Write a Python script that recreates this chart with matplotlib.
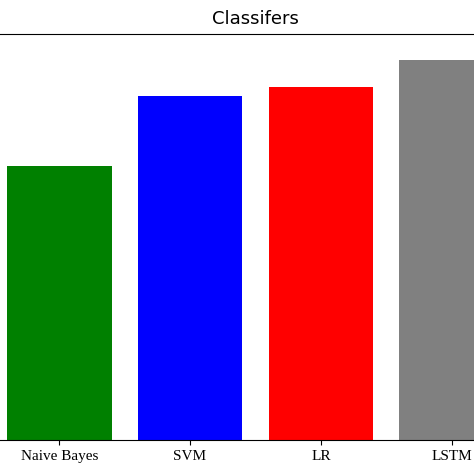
import matplotlib.pyplot as plt

classifiers = ['Naive Bayes', 'SVM', 'LR', 'LSTM']
accuracy = [0.675, 0.847, 0.869, 0.936]
colors = ['green', 'blue', 'red', 'grey']

fig = plt.figure(figsize=(4.74, 4.74), dpi=100)
# the original is a crop, so the axes run past the left and right edges
ax = fig.add_axes([-0.038, 0.0717, 1.154, 0.8565])

ax.bar(classifiers, accuracy, color=colors)
ax.set_ylim(0, 1)
ax.set_title('Classifers', fontsize=13, pad=7)
ax.set_xticks(range(len(classifiers)))
ax.set_xticklabels(classifiers, fontfamily='Liberation Serif', fontsize=11)
# y axis lies outside the cropped picture
ax.tick_params(axis='y', left=False, labelleft=False)

fig.savefig('out.png', dpi=100)
